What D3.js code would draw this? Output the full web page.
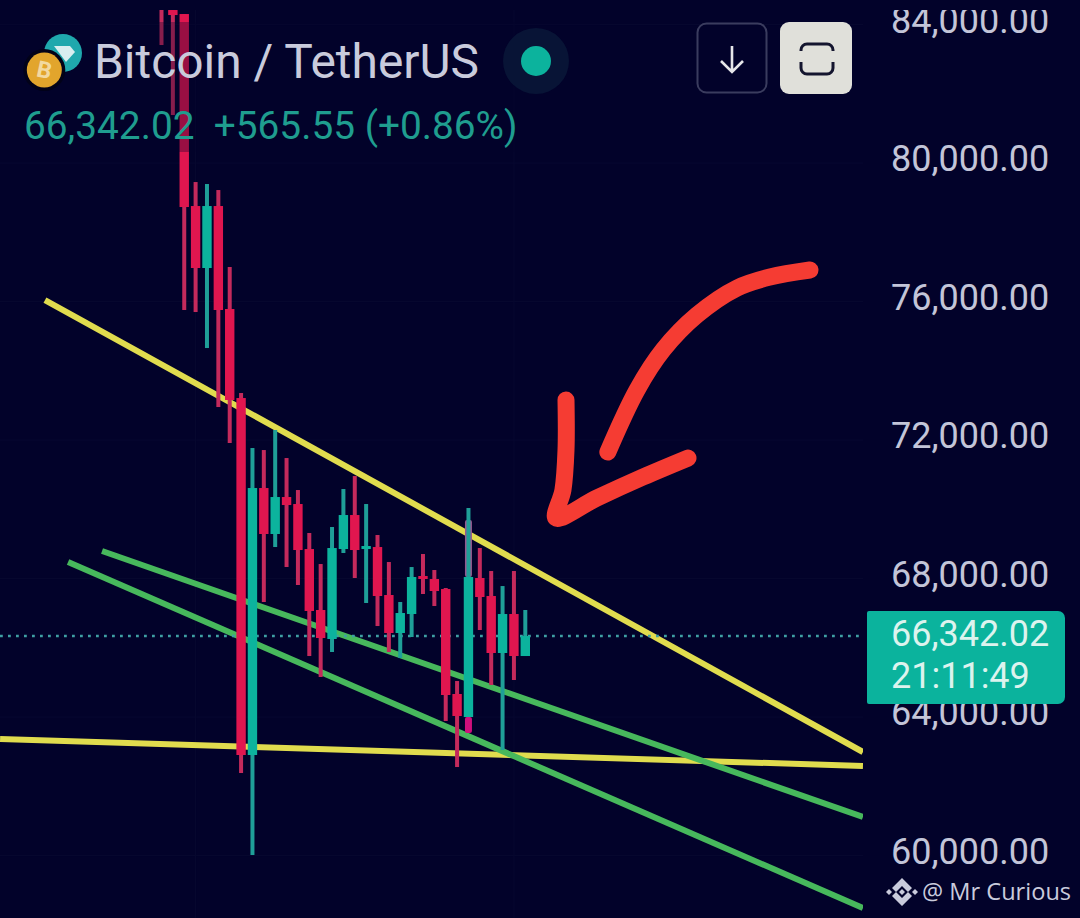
<!DOCTYPE html>
<html>
<head>
<meta charset="utf-8">
<script src="https://cdn.jsdelivr.net/npm/d3@7"></script>
<style>
  html, body { margin: 0; padding: 0; background: #02022a; }
  svg { display: block; }
  text { font-family: Roboto, sans-serif; }
</style>
</head>
<body>
<svg id="chart" width="1080" height="918"></svg>
<script>
// candles, in order
const opens  = [85576,84421,84305,78760,76970,78760,75786,73215,62905,70616,69288,70356,70154,68854,67093,66255,68854,69836,68854,68912,67526,66429,66977,68075,67988,67699,64667,64003,68017,67497,65851,66977,65764];
const closes = [84854,84276,78731,76970,78760,75757,73158,62905,70616,69288,70356,70125,68825,67064,66284,68883,69836,68825,68941,67497,66429,67006,68046,67988,67641,64638,64032,68046,67468,65851,66977,65764,66342];
const highs  = [85864,84479,84305,79453,79396,79222,76999,73360,71771,71713,72291,71482,70558,69317,68421,69490,70587,70962,70154,69259,68479,67324,68334,68710,68248,67728,65042,70039,68883,68219,67785,68219,67093];
const lows   = [83410,81388,75757,75699,74659,72955,71916,62385,60017,67324,68912,68335,67815,65764,65158,65880,68739,68017,67295,66630,65880,65706,66313,67555,67208,63887,62558,64003,66515,64927,63049,65071,65764];

// old candle showing behind bar 27
const ghostBar = 27;
const ghostHigh = [69692, 64003];
const ghostLow = [68046, 63541];
const ghostColors = ['#95588f', '#cf0f7c'];

const priceTicks = [60000, 64000, 68000, 72000, 76000, 80000, 84000];
const lastPrice = 66342.02;
const gridBars = [3, 31];

// trend lines: [bar, price]
const yellowUpper = [[-10.25, 76046], [61.7, 62992]];
const yellowLower = [[-14.2, 63367], [61.7, 62587]];
const greenUpper = [[-5.23, 68797], [61.7, 61115]];
const greenLower = [[-8.22, 68479], [61.7, 58486]];

// hand drawn arrow
const arrowShaft = [[57.04,76912],[53.52,76710],[50.62,76392],[47.1,75612],[44.11,74602],[41.82,73446],[39.26,71656]];
const arrowHead = [[35.58,73158],[35.58,71713],[35.31,70558],[34.7,69750],[38.3,70327],[42.35,70934],[46.31,71482]];

const bg = '#02022a';
const red = '#e0164f';
const redWick = '#c42a5c';
const teal = '#0cb39d';
const tealWick = '#1f9f98';

const svg = d3.select('#chart');
const chartRight = 863;

const x = d3.scaleLinear().domain([0, 32]).range([161.5, 525.3]);
const y = d3.scaleLinear().domain([60000, 84000]).range([855.6, 24.6]);
const bodyWidth = 9.4;
const wickWidth = 4;

svg.append('rect').attr('width', 1080).attr('height', 918).attr('fill', bg);

const defs = svg.append('defs');
defs.append('clipPath').attr('id', 'plot').append('rect')
    .attr('x', 0).attr('y', 10).attr('width', chartRight).attr('height', 908);
defs.append('clipPath').attr('id', 'scale').append('rect')
    .attr('x', chartRight).attr('y', 10).attr('width', 1080 - chartRight).attr('height', 908);

const plot = svg.append('g').attr('clip-path', 'url(#plot)');

// faint grid
plot.selectAll('line.h').data(priceTicks).enter().append('line')
    .attr('class', 'h')
    .attr('x1', 0).attr('x2', chartRight)
    .attr('y1', d => y(d)).attr('y2', d => y(d))
    .attr('stroke', '#07082f').attr('stroke-width', 1);
plot.selectAll('line.v').data(gridBars).enter().append('line')
    .attr('class', 'v')
    .attr('x1', d => x(d)).attr('x2', d => x(d))
    .attr('y1', 0).attr('y2', 918)
    .attr('stroke', '#07082f').attr('stroke-width', 1);

// trend lines
const line = d3.line().x(d => x(d[0])).y(d => y(d[1]));
[[yellowUpper, '#e0dc4e'], [yellowLower, '#e0dc4e'], [greenUpper, '#47b85c'], [greenLower, '#47b85c']].forEach(function(t) {
    plot.append('path').attr('d', line(t[0]))
        .attr('fill', 'none').attr('stroke', t[1]).attr('stroke-width', 6);
});

// last price line
plot.append('line')
    .attr('x1', 0).attr('x2', chartRight)
    .attr('y1', y(lastPrice)).attr('y2', y(lastPrice))
    .attr('stroke', '#3f9fa3').attr('stroke-width', 2.6).attr('stroke-dasharray', '2.8 5.2');

// ghost candle
plot.selectAll('rect.ghost').data(ghostHigh).enter().append('rect')
    .attr('class', 'ghost')
    .attr('x', x(ghostBar) - 3.5).attr('width', 7)
    .attr('y', d => y(d))
    .attr('height', (d, i) => y(ghostLow[i]) - y(d))
    .attr('rx', 2)
    .attr('fill', (d, i) => ghostColors[i]);

// candles
const bars = plot.selectAll('g.bar').data(opens).enter().append('g').attr('class', 'bar');
bars.append('rect')
    .attr('x', (d, i) => x(i) - wickWidth / 2)
    .attr('width', wickWidth)
    .attr('y', (d, i) => y(highs[i]))
    .attr('height', (d, i) => y(lows[i]) - y(highs[i]))
    .attr('fill', (d, i) => closes[i] >= d ? tealWick : redWick);
bars.append('rect')
    .attr('x', (d, i) => x(i) - bodyWidth / 2)
    .attr('width', bodyWidth)
    .attr('y', (d, i) => y(Math.max(d, closes[i])))
    .attr('height', (d, i) => Math.abs(y(d) - y(closes[i])))
    .attr('fill', (d, i) => closes[i] >= d ? teal : red);

// header shade over the chart
svg.append('rect').attr('x', 0).attr('y', 22).attr('width', 600).attr('height', 130)
    .attr('fill', bg).attr('opacity', 0.32);

// arrow
const smooth = d3.line().x(d => x(d[0])).y(d => y(d[1])).curve(d3.curveCatmullRom);
[arrowShaft, arrowHead].forEach(function(p) {
    svg.append('path').attr('d', smooth(p))
        .attr('fill', 'none').attr('stroke', '#f53c33').attr('stroke-width', 17)
        .attr('stroke-linecap', 'round').attr('stroke-linejoin', 'round');
});

// price scale
const axis = d3.axisRight(y).tickValues(priceTicks).tickFormat(d3.format(',.2f')).tickSize(0).tickPadding(0);
const axisG = svg.append('g').attr('clip-path', 'url(#scale)').append('g')
    .attr('transform', 'translate(891,0)').call(axis);
axisG.select('.domain').remove();
axisG.selectAll('text')
    .attr('y', -3.8)
    .attr('font-size', 36)
    .attr('fill', '#c3c5d8')
    .style('font-family', 'Roboto, sans-serif');

// price tag
svg.append('path')
    .attr('d', 'M867,613 a2,2 0 0 1 2,-2 H1058 a7,7 0 0 1 7,7 V697 a7,7 0 0 1 -7,7 H869 a2,2 0 0 1 -2,-2 Z')
    .attr('fill', '#0bb39d');
svg.append('text').attr('x', 891).attr('y', 646).attr('font-size', 36).attr('fill', '#dcf3ee')
    .text(d3.format(',.2f')(lastPrice));
svg.append('text').attr('x', 891).attr('y', 688).attr('font-size', 36).attr('fill', '#dcf3ee')
    .text('21:11:49');

// header
svg.append('text').attr('x', 94).attr('y', 78).attr('font-size', 47.9).attr('fill', '#c9cbdc')
    .text('Bitcoin / TetherUS');
svg.append('text').attr('x', 24).attr('y', 139).attr('font-size', 38.8).attr('fill', '#1f9d8f')
    .attr('xml:space', 'preserve').style('white-space', 'pre')
    .text('66,342.02  +565.55 (+0.86%)');

// coin icons
svg.append('circle').attr('cx', 63).attr('cy', 53).attr('r', 19).attr('fill', '#1fa8ad');
svg.append('path').attr('d', 'M54,46 H70 L75,52 L66,62 Z').attr('fill', '#d8eef0');
svg.append('circle').attr('cx', 44.3).attr('cy', 70).attr('r', 21).attr('fill', '#020218');
svg.append('circle').attr('cx', 44.3).attr('cy', 70).attr('r', 17.5).attr('fill', '#e2a52c');
svg.append('text').attr('x', 44.3).attr('y', 78).attr('text-anchor', 'middle')
    .attr('font-size', 23).attr('font-weight', 700).attr('fill', '#f2d9a0')
    .attr('transform', 'rotate(12 44.3 70)').text('B');

// status dot
svg.append('circle').attr('cx', 536).attr('cy', 61).attr('r', 33).attr('fill', '#081436');
svg.append('circle').attr('cx', 536).attr('cy', 61).attr('r', 15).attr('fill', '#0cb39d');

// buttons
svg.append('rect').attr('x', 697.5).attr('y', 23.5).attr('width', 69).attr('height', 69).attr('rx', 9)
    .attr('fill', 'none').attr('stroke', '#3a3c5e').attr('stroke-width', 2);
svg.append('path').attr('d', 'M732,46 V72 M721,61 L732,72 L743,61')
    .attr('fill', 'none').attr('stroke', '#e6e6ea').attr('stroke-width', 2.6);
svg.append('rect').attr('x', 780).attr('y', 22).attr('width', 72).attr('height', 72).attr('rx', 9)
    .attr('fill', '#e0e0da');
svg.append('path')
    .attr('d', 'M801,51 V50 a6,6 0 0 1 6,-6 H827 a6,6 0 0 1 6,6 V51 M801,62 V68 a6,6 0 0 0 6,6 H827 a6,6 0 0 0 6,-6 V62')
    .attr('fill', 'none').attr('stroke', '#14152e').attr('stroke-width', 3);

// watermark
const mark = svg.append('g').attr('fill', '#c9cbdc');
mark.append('path').attr('d', 'M902,878 L912,888 L908,892 L902,886 L896,892 L892,888 Z');
mark.append('path').attr('d', 'M902,906 L912,896 L908,892 L902,898 L896,892 L892,896 Z');
mark.append('path').attr('d', 'M902,889 L905,892 L902,895 L899,892 Z');
mark.append('path').attr('d', 'M889,889 L892,892 L889,895 L886,892 Z');
mark.append('path').attr('d', 'M915,889 L918,892 L915,895 L912,892 Z');
svg.append('text').attr('x', 922).attr('y', 900).attr('font-size', 23.6).attr('fill', '#c9cbdc')
    .style('font-family', '"Open Sans", sans-serif').text('@ Mr Curious');
</script>
</body>
</html>
